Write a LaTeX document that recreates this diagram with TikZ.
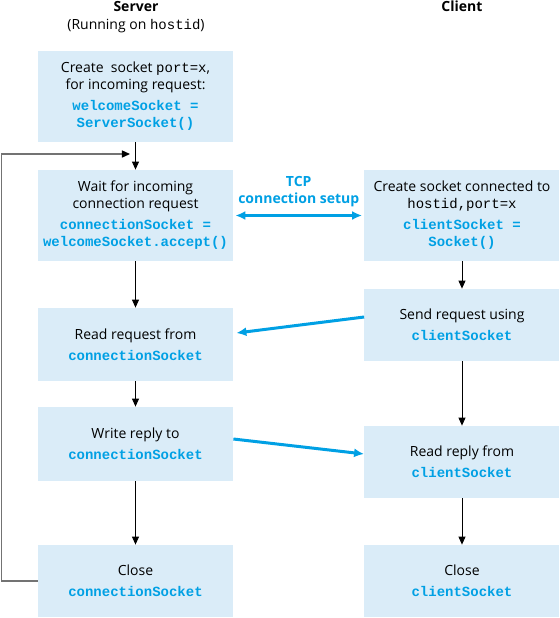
\documentclass[tikz,border=0pt]{standalone}
\usepackage{fontspec}
\setmainfont{Open Sans}
\setmonofont{Liberation Mono}
\usetikzlibrary{positioning,arrows.meta}
\definecolor{sockblue}{RGB}{0,160,228}
\definecolor{boxfill}{RGB}{218,236,248}
\newcommand{\code}[1]{\textcolor{sockblue}{\ttfamily\bfseries #1}}
\newcommand{\plain}[1]{{\ttfamily #1}}

\begin{document}
\begin{tikzpicture}[x=0.5pt,y=-0.5pt,
  font=\fontsize{7}{8.5}\selectfont,
  sockbox/.style={fill=boxfill, minimum width=97.5pt, align=center, inner sep=0pt},
  flow/.style={-{Triangle[length=4pt,width=3.5pt]}, thin},
  msg/.style={-{Latex[length=5pt,width=4.5pt]}, sockblue, line width=1.5pt},
  loopback/.style={-{Triangle[length=4pt,width=3.5pt,color=black]}, black!55, line width=0.7pt}]

  \useasboundingbox (0,0) rectangle (560,618);

  % headings
  \node [font=\fontsize{7}{8.5}\selectfont\bfseries] (server) at (136,6) {Server};
  \node (running) at (136,26) {(Running on \plain{hostid})};
  \node [font=\fontsize{7}{8.5}\selectfont\bfseries] (client) at (462,6) {Client};

  % server side
  \node [sockbox, minimum height=45.5pt] (srvCreate) at (135.5,96.5)
        {Create\ \ socket \plain{port=x},\\ for incoming request:\\[2pt]
         \code{welcomeSocket =}\\ \code{ServerSocket()}};
  \node [sockbox, minimum height=45.5pt] (srvWait) at (135.5,215.5)
        {Wait for incoming\\ connection request\\[2pt]
         \code{connectionSocket =}\\ \code{welcomeSocket.accept()}};
  \node [sockbox, minimum height=36.5pt] (srvRead) at (135.5,344.5)
        {Read request from\\[2pt] \code{connectionSocket}};
  \node [sockbox, minimum height=37pt] (srvWrite) at (135.5,444)
        {Write reply to\\[2pt] \code{connectionSocket}};
  \node [sockbox, minimum height=36pt] (srvClose) at (135.5,581)
        {Close\\[2pt] \code{connectionSocket}};

  % client side
  \node [sockbox, minimum height=45.5pt] (cliCreate) at (462,215.5)
        {Create socket connected to\\ \plain{hostid,port=x}\\[2pt]
         \code{clientSocket =}\\ \code{Socket()}};
  \node [sockbox, minimum height=36pt] (cliSend) at (462,325)
        {Send request using\\[2pt] \code{clientSocket}};
  \node [sockbox, minimum height=36pt] (cliRead) at (462,462)
        {Read reply from\\[2pt] \code{clientSocket}};
  \node [sockbox, minimum height=36pt] (cliClose) at (462,581)
        {Close\\[2pt] \code{clientSocket}};

  % control flow
  \draw [flow] (srvCreate) -- (srvWait);
  \draw [flow] (srvWait) -- (srvRead);
  \draw [flow] (srvRead) -- (srvWrite);
  \draw [flow] (srvWrite) -- (srvClose);
  \draw [flow] (cliCreate) -- (cliSend);
  \draw [flow] (cliSend) -- (cliRead);
  \draw [flow] (cliRead) -- (cliClose);

  \coordinate (loopin) at (130,154);
  \draw [loopback] (srvClose.west) -- ++(-36,0) |- (loopin);

  % messages
  \draw [msg, {Latex[length=5pt,width=4.5pt]}-{Latex[length=5pt,width=4.5pt]}]
        ([xshift=1pt]srvWait.east) -- ([xshift=-1pt]cliCreate.west)
        node [midway, above=0pt, align=center, font=\fontsize{7}{8.5}\selectfont\bfseries]
        (setup) {TCP\\ connection setup};
  \draw [msg] ([yshift=4pt]cliSend.west) -- ([xshift=1.5pt,yshift=5.75pt]srvRead.east);
  \draw [msg] ([yshift=2.5pt]srvWrite.east) -- ([yshift=4pt]cliRead.west);

\end{tikzpicture}
\end{document}
